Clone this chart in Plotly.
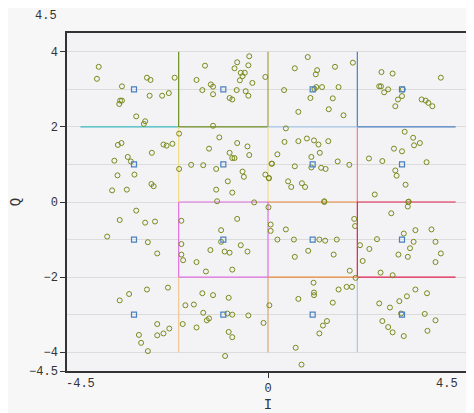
import plotly.graph_objects as go

# received symbols (I, Q)
rx_i = [-3.79,-3.83,-3.27,-2.71,-2.63,-2.09,-2.65,-2.37,-2.22,-3.31,-3.33,-3.27,-2.95,-2.75,-2.78,
 -1.41,-0.75,-0.69,-0.42,-0.44,-0.61,-0.52,-0.57,-0.63,-0.35,-0.06,-1.6,-1.28,-1.23,-1.47,-1.23,-0.7,-0.5,-0.44,-0.86,-0.8,-1.23,
 -1.99,-3.36,-3.28,-2.34,-2.27,-2.14,-2.6,-3.44,-3.14,-3.07,-2.99,-3.37,-3.49,-3.16,-2.61,-2.56,-1.99,
 -1.09,-0.69,-0.46,-1.32,-0.86,-0.8,-0.75,-0.42,-1.72,-1.45,-1.16,-0.57,-0.54,-0.06,0.02,-0.9,-1.16,-0.8,-1.14,-0.31,0.08,
 0.89,0.6,1.1,1.07,1.5,1.9,0.36,1.08,1.21,1.58,0.95,1.45,0.68,1.36,1.69,1.04,
 2.54,2.79,3.87,2.49,2.53,2.69,2.6,3.02,3.0,2.91,2.85,3.44,3.53,3.59,3.68,
 0.4,0.37,0.68,0.87,1.03,1.13,1.35,1.16,0.97,0.21,0.09,0.6,0.97,1.19,1.29,1.56,1.82,0.02,0.45,0.52,0.76,0.83,1.26,
 3.06,3.25,3.27,3.4,2.82,3.0,2.26,2.56,3.55,2.85,2.88,3.08,2.39,3.14,
 -2.95,-3.32,-2.75,-2.53,-1.94,-3.6,-2.69,-2.48,-1.94,-1.94,-1.9,
 -1.05,-0.69,-1.05,-0.61,-0.46,-1.29,-0.97,-0.86,-1.6,-1.39,-0.8,0.01,0.06,
 -2.71,-2.24,-3.11,-3.32,-2.48,-2.21,-2.34,-2.48,-2.89,-2.84,-2.69,
 -1.47,-1.23,-0.88,-1.85,-1.66,-1.45,-1.32,-1.37,-0.91,-0.8,-0.44,-1.91,-1.6,-0.88,-0.8,-0.1,0.03,-0.96,
 0.06,0.21,0.4,0.58,0.6,0.9,1.15,1.28,1.54,1.47,1.83,1.93,1.95,1.26,1.96,
 2.76,3.13,3.15,3.04,3.3,3.66,3.26,3.75,3.18,2.92,3.13,3.87,3.75,2.44,2.27,2.06,2.12,2.52,2.79,
 1.02,1.03,1.03,0.68,1.45,1.58,1.76,1.88,1.32,1.23,1.15,0.62,0.75,
 3.3,3.56,3.11,2.94,2.73,2.49,2.98,3.51,3.75,2.56,2.69,2.79,3.04,3.57]
rx_q = [3.6,3.28,3.08,3.31,3.25,3.31,2.83,2.83,2.9,2.7,2.61,2.7,2.28,2.15,2.08,
 3.63,3.56,3.72,3.88,3.64,3.44,3.44,3.35,3.24,3.17,3.33,3.25,3.13,3.07,2.98,2.87,2.98,2.95,2.83,2.77,2.73,2.03,
 1.82,1.52,1.57,1.53,1.5,1.55,1.31,1.1,1.2,1.08,0.73,0.71,0.31,0.33,0.48,0.42,0.88,
 1.72,1.57,1.48,1.42,1.31,1.17,1.17,1.25,0.99,0.98,0.88,0.81,0.67,0.73,0.63,0.55,0.33,0.25,0.02,-0.01,1.02,
 3.86,3.56,3.51,3.4,3.6,3.71,2.98,3.06,3.06,3.06,2.77,2.76,2.4,2.47,2.31,3.01,
 3.46,3.42,3.31,3.08,3.08,3.0,2.92,3.0,2.82,2.73,2.55,2.73,2.7,2.64,2.55,
 1.96,1.6,1.62,1.69,1.64,1.53,1.62,1.31,1.2,1.27,1.02,0.95,0.92,0.91,0.88,1.08,0.99,0.64,0.55,0.4,0.5,0.4,0.0,
 1.87,1.71,1.51,1.57,1.42,1.35,1.16,1.09,1.06,0.84,0.7,0.46,0.2,0.0,
 -0.23,-0.48,-0.55,-0.52,-0.5,-0.92,-1.07,-1.37,-1.12,-1.4,-1.55,
 -0.75,-0.45,-1.06,-1.15,-1.32,-1.28,-1.32,-1.35,-1.6,-1.85,-1.8,-0.14,-0.77,
 -2.33,-2.28,-2.45,-2.62,-3.25,-3.37,-3.5,-3.55,-3.54,-3.75,-3.97,
 -2.43,-2.48,-2.55,-2.75,-2.73,-2.95,-3.1,-3.15,-2.97,-3.0,-3.02,-3.25,-3.34,-3.46,-3.6,-3.22,-2.75,-4.1,
 -0.6,-1.0,-0.73,-1.0,-1.46,-1.3,-1.0,-1.03,-1.0,-1.4,-1.83,-0.45,-0.64,0.02,-2.02,
 -0.3,-0.12,0.01,-0.84,-0.75,-0.73,-1.06,-1.06,-1.23,-1.4,-1.46,-1.37,-1.6,-0.99,-1.25,-1.15,-1.57,-1.88,-1.95,
 -2.15,-2.41,-2.48,-2.58,-2.68,-2.33,-2.26,-2.26,-3.17,-3.29,-3.5,-3.88,-4.33,
 -2.33,-2.43,-2.51,-2.64,-2.81,-2.7,-2.97,-2.98,-3.15,-3.17,-3.33,-3.47,-3.57,-3.43]

# ideal 16-QAM reference points
ref_i = [-3,-1,1,3]*4
ref_q = [3]*4 + [1]*4 + [-1]*4 + [-3]*4

# decision boundary segments: (x0, y0, x1, y1, colour)
seg_x0 = [-4.2,-2,-2,0,2,2,-2,0,2,0,0,0,0,-2,-2,-2,0,2,2,2,2,-2,0]
seg_y0 = [2,2,2,2,2,2,-2,0,0,0,-2,-2,0,0,0,-2,-2,0,-2,0,-2,2,2]
seg_x1 = [-2,0,-2,0,2,4.2,-2,0,2,2,2,0,0,0,-2,0,0,4.2,4.2,2,2,-2,2]
seg_y1 = [2,2,4,4,4,2,-4,2,2,0,-2,-4,-2,0,-2,-2,-2,0,-2,-2,-4,0,2]
seg_c = ["#3cbcc4","#6b8e23","#6b8e23","#a8a040","#4a7fc0","#4a7fc0","#f0c890","#eedd88",
         "#f08080","#e8883a","#e8883a","#d8a870","#e070e0","#e070e0","#e070e0","#e070e0","#e070e0",
         "#e02050","#e02050","#e02050","#a8c8e8","#eedd88","#a8c8e8"]

y_ticks = [-4.5, -4, -2, 0, 2, 4]
x_ticks = [0]

fig = go.Figure()
for x0, y0, x1, y1, c in zip(seg_x0, seg_y0, seg_x1, seg_y1, seg_c):
    fig.add_trace(go.Scatter(x=[x0, x1], y=[y0, y1], mode="lines",
                             line=dict(color=c, width=1.2), hoverinfo="skip"))
fig.add_trace(go.Scatter(x=rx_i, y=rx_q, mode="markers",
                         marker=dict(symbol="circle-open", size=5, color="#7a8a1a", line=dict(width=1))))
fig.add_trace(go.Scatter(x=ref_i, y=ref_q, mode="markers",
                         marker=dict(symbol="square-open", size=5, color="#4a80c0", line=dict(width=1.2))))

font = dict(family="Liberation Mono, DejaVu Sans Mono", size=12, color="#333")
edge = dict(font=font, showarrow=False)
fig.add_annotation(x=0, xref="paper", y=4.5, yref="y", text="4.5", xanchor="right",
                   xshift=-8, yshift=17, **edge)
fig.add_annotation(x=-4.5, xref="x", y=0, yref="paper", text="-4.5", yanchor="top",
                   xshift=13, yshift=-4, **edge)
fig.add_annotation(x=4.5, xref="x", y=0, yref="paper", text="4.5", yanchor="top",
                   xshift=-22, yshift=-4, **edge)
fig.update_layout(
    width=466, height=405, showlegend=False,
    margin=dict(l=59, r=5, t=25, b=42),
    paper_bgcolor="#f7f7f7", plot_bgcolor="#f3f2f5",
    font=font,
    xaxis=dict(range=[-4.5, 4.5], tickvals=x_ticks, automargin=False,
               showgrid=False, zeroline=False, ticks="outside", ticklen=5, tickcolor="#333",
               showline=True, linecolor="#333", linewidth=1.5, mirror=True,
               title=dict(text="I", standoff=4)),
    yaxis=dict(range=[-4.5, 4.5], tickvals=y_ticks, automargin=False,
               showgrid=False, zeroline=False, ticks="outside", ticklen=5, tickcolor="#333",
               showline=True, linecolor="#333", linewidth=1.5, mirror=True,
               minor=dict(tickvals=[-4, -3, -2, -1, 0, 1, 2, 3, 4], showgrid=True,
                          gridcolor="#dcdcdc", gridwidth=1, ticks=""),
               title=dict(text="Q", standoff=10)),
)
fig.write_html("out.html")
